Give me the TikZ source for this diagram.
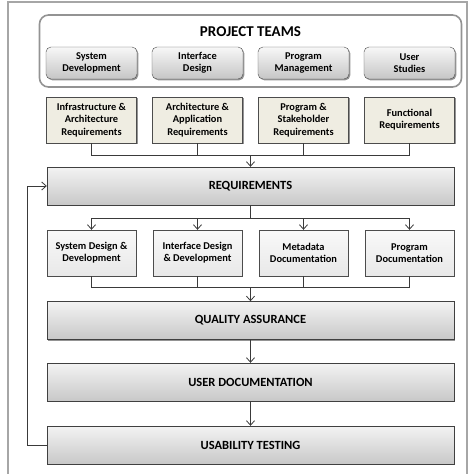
\documentclass[tikz,border=0pt]{standalone}
\usepackage{fontspec}
\setmainfont{Carlito}
\usepackage{tikz}
\usetikzlibrary{arrows.meta, positioning, shadows}
\definecolor{reqfill}{HTML}{EFEDE2}
\definecolor{boxtop}{HTML}{F3F3F3}
\definecolor{boxbot}{HTML}{C8C8C8}
\definecolor{linegray}{HTML}{3A3A3A}

\begin{document}
\begin{tikzpicture}[x=1pt, y=-1pt, node distance=106pt, >={Straight Barb[length=4.5pt, width=8pt]},
    every node/.style={font=\bfseries\fontsize{10.4}{12.3}\selectfont, align=center, inner sep=0pt},
    shade/.style={drop shadow={shadow xshift=1.3pt, shadow yshift=-1.3pt, fill=black!70, opacity=0.6}},
    team/.style={draw=black!70, rounded corners=5pt, minimum width=91pt, minimum height=32pt, top color=gray!6, bottom color=gray!45, shade},
    reqbox/.style={draw=black!70, fill=reqfill, minimum width=90pt, minimum height=46pt, shade},
    devbox/.style={draw=black!70, top color=gray!5, bottom color=gray!18, minimum width=89pt, minimum height=46pt, shade},
    stage/.style={draw=black!75, top color=boxtop, bottom color=boxbot, minimum width=407pt, minimum height=38pt, font=\bfseries\fontsize{12.5}{14}\selectfont, shade},
    line/.style={draw=linegray, line width=0.8pt}]
                \useasboundingbox (0,0) rectangle (474,474);
                \draw[gray!70, line width=1.5pt] (8,478) -- (8,2) -- (467,2) -- (467,478);

                % Nodes
                \node[draw=gray!85, line width=1.6pt, rounded corners=9pt, minimum width=422pt, minimum height=72pt] (P) at (250.5,51) {};
                \node[font=\bfseries\fontsize{15}{17}\selectfont] (PT) at (250.5,32) {PROJECT TEAMS};
                \node[team] (T1) at (91.5,63) {System\\Development};
                \node[team] (T2) [right of=T1] {Interface\\Design};
                \node[team] (T3) [right of=T2] {Program\\Management};
                \node[team] (T4) [right of=T3] {User\\Studies};

                \node[reqbox] (R1) at (91.5,120) {Infrastructure \&\\Architecture\\Requirements};
                \node[reqbox] (R2) [right of=R1] {Architecture \&\\Application\\Requirements};
                \node[reqbox] (R3) [right of=R2] {Program \&\\Stakeholder\\Requirements};
                \node[reqbox] (R4) [right of=R3] {Functional\\Requirements};

                \node[stage] (REQ) at (250.5,186) {REQUIREMENTS};

                \node[devbox] (D1) at (91.5,253) {System Design \&\\Development};
                \node[devbox] (D2) [right of=D1] {Interface Design\\\& Development};
                \node[devbox] (D3) [right of=D2] {Metadata\\Documentation};
                \node[devbox] (D4) [right of=D3] {Program\\Documentation};

                \node[stage] (QA) at (250.5,320.5) {QUALITY ASSURANCE};
                \node[stage] (UD) [below of=QA, node distance=61.5pt] {USER DOCUMENTATION};
                \node[stage] (UT) [below of=UD, node distance=63pt] {USABILITY TESTING};

                \coordinate (J1) at (250.5,155);
                \coordinate (J2) at (250.5,218);
                \coordinate (J3) at (250.5,287);

                % Edges
                \draw[line] (R1) |- (J1 -| R4) -- (R4);
                \draw[line] (R2) -- (J1 -| R2);
                \draw[line] (R3) -- (J1 -| R3);
                \draw[line, ->] (J1) -- (REQ);

                \draw[line] (REQ) -- (J2);
                \draw[line, ->] (J2) -| (D1);
                \draw[line, ->] (J2) -| (D4);
                \draw[line, ->] (J2 -| D2) -- (D2);
                \draw[line, ->] (J2 -| D3) -- (D3);

                \draw[line] (D1) |- (J3 -| D4) -- (D4);
                \draw[line] (D2) -- (J3 -| D2);
                \draw[line] (D3) -- (J3 -| D3);
                \draw[line, ->] (J3) -- (QA);

                \draw[line, ->] (QA) -- (UD);
                \draw[line, ->] (UD) -- (UT);
                \draw[line, ->] (UT.west) -- ++(-19,0) |- (REQ.west);
            \end{tikzpicture}
\end{document}
